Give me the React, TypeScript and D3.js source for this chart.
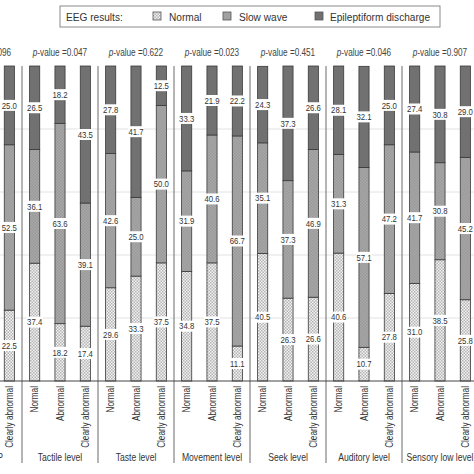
import * as d3 from "d3";

const W = 474;
const H = 474;
const FONT = "'Liberation Sans', Arial, sans-serif";
// the original figure uses a condensed face; squeeze Arial-like text horizontally
const SQ = 0.82;

// groups (first one is cut off at the left edge in the original figure)
const groups = ["Total SSP", "Tactile level", "Taste level", "Movement level", "Seek level", "Auditory level", "Sensory low level"];
const categories = ["Normal", "Abnormal", "Clearly abnormal"];
const pValues = ["0.096", "0.047", "0.622", "0.023", "0.451", "0.046", "0.907"];

// percentages per group, per category (null = bar not visible)
const normalPct = [[null, null, 22.5], [37.4, 18.2, 17.4], [29.6, 33.3, 37.5], [34.8, 37.5, 11.1], [40.5, 26.3, 26.6], [40.6, 10.7, 27.8], [31.0, 38.5, 25.8]];
const slowPct = [[null, null, 52.5], [36.1, 63.6, 39.1], [42.6, 25.0, 50.0], [31.9, 40.6, 66.7], [35.1, 37.3, 46.9], [31.3, 57.1, 47.2], [41.7, 30.8, 45.2]];
const epiPct = [[null, null, 25.0], [26.5, 18.2, 43.5], [27.8, 41.7, 12.5], [33.3, 21.9, 22.2], [24.3, 37.3, 26.6], [28.1, 32.1, 25.0], [27.4, 30.8, 29.0]];

const seriesKeys = ["normal", "slow", "epi"];
const seriesNames = ["Normal", "Slow wave", "Epileptiform discharge"];
const seriesFill = ["url(#patNormal)", "url(#patSlow)", "#717171"];

const yTicks = [20, 40, 60, 80];

const PLOT = { left: -54, right: 478, top: 66, bottom: 381 };

export default function App() {
  const xGroup = d3.scaleBand().domain(groups).range([PLOT.left, PLOT.right]);
  const xCat = d3.scaleBand().domain(categories).range([0, xGroup.bandwidth()]).paddingInner(0.6).paddingOuter(0.3);
  const y = d3.scaleLinear().domain([0, 100]).range([PLOT.bottom, PLOT.top]).clamp(true);

  const rows = [];
  groups.forEach((g, gi) => {
    categories.forEach((c, ci) => {
      if (normalPct[gi][ci] == null) return;
      rows.push({ group: g, cat: c, normal: normalPct[gi][ci], slow: slowPct[gi][ci], epi: epiPct[gi][ci] });
    });
  });
  const stacked = d3.stack().keys(seriesKeys)(rows);

  const barX = (r) => (xGroup(r.group) ?? 0) + (xCat(r.cat) ?? 0);
  const bw = xCat.bandwidth();
  const gMid = (g) => (xGroup(g) ?? 0) + xGroup.bandwidth() / 2;

  const legendItems = [
    { x: 153, tx: 169 },
    { x: 223, tx: 239 },
    { x: 315, tx: 330 },
  ];

  return (
    <svg width={W} height={H} style={{ position: "absolute", left: 0, top: 0, background: "#fff" }} fontFamily={FONT}>
      <defs>
        <pattern id="patNormal" width="3" height="3" patternUnits="userSpaceOnUse">
          <rect width="3" height="3" fill="#f2f2f2" />
          <rect width="1.5" height="1.5" fill="#b4b4b4" />
          <rect x="1.5" y="1.5" width="1.5" height="1.5" fill="#b4b4b4" />
        </pattern>
        <pattern id="patSlow" width="3" height="3" patternUnits="userSpaceOnUse">
          <rect width="3" height="3" fill="#a8a8a8" />
          <rect width="1.5" height="1.5" fill="#999" />
          <rect x="1.5" y="1.5" width="1.5" height="1.5" fill="#999" />
        </pattern>
      </defs>

      {/* grid lines */}
      {yTicks.map((t) => (
        <line key={t} x1={0} x2={W} y1={y(t)} y2={y(t)} stroke="#e2e2e2" strokeWidth={1} />
      ))}

      {/* group separators */}
      {groups.slice(1).map((g) => (
        <line key={g} x1={xGroup(g)} x2={xGroup(g)} y1={PLOT.top} y2={463} stroke="#6a6a6a" strokeWidth={1} />
      ))}

      {/* bars */}
      {stacked.map((s, si) => (
        <g key={s.key}>
          {s.map((d, i) => (
            <rect
              key={i}
              x={barX(d.data)}
              y={y(d[1])}
              width={bw}
              height={y(d[0]) - y(d[1])}
              fill={seriesFill[si]}
              stroke="#3a3a3a"
              strokeWidth={0.8}
            />
          ))}
        </g>
      ))}

      {/* value labels */}
      {stacked.map((s) => (
        <g key={"lab" + s.key}>
          {s.map((d, i) => {
            const cx = barX(d.data) + bw / 2;
            const cy = (y(d[0]) + y(d[1])) / 2;
            return (
              <g key={i}>
                <rect x={cx - 8} y={cy - 5.5} width={16} height={11} fill="#fff" />
                <text transform={`translate(${cx},${cy + 3.2}) scale(${SQ},1)`} textAnchor="middle" fontSize={9.5} fill="#333">
                  {d.data[s.key].toFixed(1)}
                </text>
              </g>
            );
          })}
        </g>
      ))}

      {/* baseline */}
      <line x1={0} x2={W} y1={PLOT.bottom} y2={PLOT.bottom} stroke="#444" strokeWidth={1} />

      {/* p-values */}
      {groups.map((g, gi) => (
        <text key={g} transform={`translate(${gMid(g)},56) scale(${SQ},1)`} textAnchor="middle" fontSize={10} fill="#444">
          <tspan fontStyle="italic">p</tspan>
          <tspan>-value =</tspan>
          <tspan>{pValues[gi]}</tspan>
        </text>
      ))}

      {/* category labels */}
      {groups.map((g) =>
        categories.map((c) => {
          const cx = (xGroup(g) ?? 0) + (xCat(c) ?? 0) + bw / 2 + 3.5;
          return (
            <text key={g + c} transform={`translate(${cx},386) rotate(-90) scale(${SQ},1)`} textAnchor="end" fontSize={10} fill="#333">
              {c}
            </text>
          );
        })
      )}

      {/* group labels */}
      {groups.map((g) => (
        <text key={"gl" + g} transform={`translate(${gMid(g)},461) scale(${SQ},1)`} textAnchor="middle" fontSize={10.5} fill="#333">
          {g}
        </text>
      ))}

      {/* legend */}
      <rect x={60} y={6} width={380} height={21} fill="#fff" stroke="#8a8a8a" strokeWidth={1} />
      <text transform="translate(66,21) scale(0.88,1)" fontSize={11.5} fill="#333">EEG results:</text>
      {legendItems.map((l, i) => (
        <g key={i}>
          <rect x={l.x} y={12} width={8} height={8} fill={seriesFill[i]} stroke="#555" strokeWidth={0.8} />
          <text transform={`translate(${l.tx},21) scale(0.88,1)`} fontSize={11.5} fill="#333">{seriesNames[i]}</text>
        </g>
      ))}
    </svg>
  );
}
